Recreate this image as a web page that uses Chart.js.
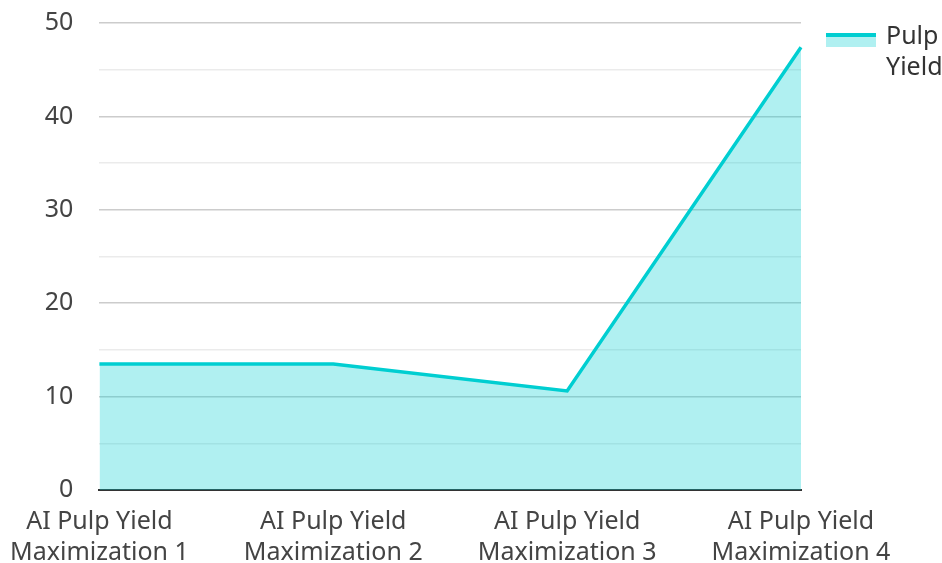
<!DOCTYPE html>
<html>
<head>
<meta charset="utf-8">
<script src="https://cdn.jsdelivr.net/npm/chart.js@4"></script>
<style>
  html, body { margin: 0; padding: 0; background: #fff; }
  #wrap { width: 942px; height: 563px; position: relative; }
</style>
</head>
<body>
<div id="wrap"><canvas id="c"></canvas></div>
<script>
const categories = [
  ["AI Pulp Yield", "Maximization 1"],
  ["AI Pulp Yield", "Maximization 2"],
  ["AI Pulp Yield", "Maximization 3"],
  ["AI Pulp Yield", "Maximization 4"]
];
const seriesName = ["Pulp", "Yield"];
const pulpYield = [13.5, 13.5, 10.6, 47.4];
const yTicks = [0, 10, 20, 30, 40, 50];

const LINE = '#00CED1';
const FILL = 'rgba(0,206,209,0.31)';
const FONT = '"Noto Sans", "Open Sans", sans-serif';

const legendPlugin = {
  id: 'customLegend',
  afterDraw(chart) {
    const ctx = chart.ctx;
    const x = chart.chartArea.right + 25;
    const y = 33;
    ctx.save();
    ctx.fillStyle = FILL;
    ctx.fillRect(x, y, 50, 14);
    ctx.fillStyle = LINE;
    ctx.fillRect(x, y, 50, 4);
    ctx.fillStyle = '#333';
    ctx.font = '25px ' + FONT;
    ctx.textBaseline = 'middle';
    ctx.textAlign = 'left';
    seriesName.forEach((t, i) => ctx.fillText(t, x + 60, y + 4 + i * 31));
    ctx.restore();
  }
};

new Chart(document.getElementById('c'), {
  type: 'line',
  data: {
    labels: categories,
    datasets: [{
      label: seriesName.join(' '),
      data: pulpYield,
      borderColor: LINE,
      backgroundColor: FILL,
      borderWidth: 3.5,
      fill: 'origin',
      tension: 0,
      pointRadius: 0,
      pointHoverRadius: 0
    }]
  },
  options: {
    responsive: true,
    maintainAspectRatio: false,
    animation: false,
    layout: { padding: { top: 0, right: 141, left: 12, bottom: 0 } },
    plugins: { legend: { display: false }, tooltip: { enabled: false } },
    scales: {
      x: {
        offset: false,
        grid: { display: true, drawOnChartArea: false, drawTicks: true, tickLength: 6, tickColor: 'rgba(0,0,0,0)', color: 'rgba(0,0,0,0)' },
        border: { display: true, color: '#333', width: 2 },
        afterFit: (scale) => { scale.height = 73; },
        ticks: {
          color: '#444',
          font: { family: FONT, size: 25, lineHeight: 1.25 },
          padding: 10,
          maxRotation: 0,
          autoSkip: false
        }
      },
      y: {
        min: 0,
        max: 50,
        grid: {
          drawTicks: true,
          tickLength: 18,
          tickColor: 'rgba(0,0,0,0)',
          color: (c) => (c.tick && c.tick.value % 10 === 0) ? '#cccccc' : '#ebebeb',
          lineWidth: 1.5
        },
        border: { display: false },
        ticks: {
          stepSize: 5,
          color: '#444',
          font: { family: FONT, size: 25 },
          padding: 8,
          callback: (v) => yTicks.includes(v) ? String(v) : ''
        }
      }
    }
  },
  plugins: [legendPlugin]
});
</script>
</body>
</html>
